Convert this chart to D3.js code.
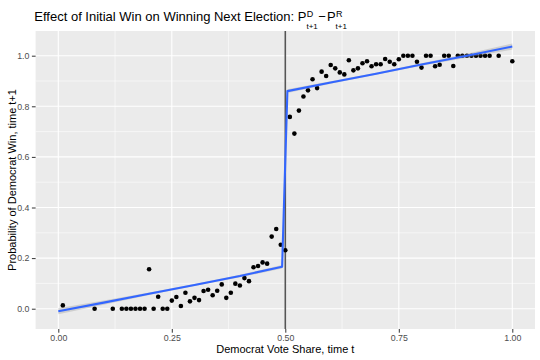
<!DOCTYPE html>
<html>
<head>
<meta charset="utf-8">
<script src="https://cdn.jsdelivr.net/npm/d3@7"></script>
<style>
  html, body { margin: 0; padding: 0; background: #ffffff; }
  svg { display: block; font-family: "Liberation Sans", Arial, Helvetica, sans-serif; }
</style>
</head>
<body>
<svg id="chart" width="540" height="360"></svg>
<script>
// ---- Data ----
const voteShare = [
  0.01, 0.08, 0.12, 0.14, 0.15, 0.16, 0.17, 0.18, 0.19, 0.20,
  0.21, 0.22, 0.23, 0.24, 0.25, 0.26, 0.27, 0.28, 0.29, 0.30,
  0.31, 0.32, 0.33, 0.34, 0.35, 0.36, 0.37, 0.38, 0.39, 0.40,
  0.41, 0.42, 0.43, 0.44, 0.45, 0.46, 0.47, 0.48, 0.49, 0.50,
  0.51, 0.52, 0.53, 0.54, 0.55, 0.56, 0.57, 0.58, 0.59, 0.60,
  0.61, 0.62, 0.63, 0.64, 0.65, 0.66, 0.67, 0.68, 0.69, 0.70,
  0.71, 0.72, 0.73, 0.74, 0.75, 0.76, 0.77, 0.78, 0.79, 0.80,
  0.81, 0.82, 0.83, 0.84, 0.85, 0.86, 0.87, 0.88, 0.89, 0.90,
  0.91, 0.92, 0.93, 0.94, 0.95, 0.97, 1.00
];
const winProb = [
  0.013, 0.000, 0.000, 0.000, 0.000, 0.000, 0.000, 0.000, 0.000, 0.156,
  0.000, 0.047, 0.000, 0.000, 0.032, 0.046, 0.011, 0.063, 0.029, 0.043,
  0.034, 0.070, 0.075, 0.053, 0.071, 0.096, 0.043, 0.063, 0.099, 0.092,
  0.121, 0.109, 0.164, 0.169, 0.183, 0.178, 0.285, 0.315, 0.253, 0.231,
  0.758, 0.692, 0.783, 0.839, 0.863, 0.907, 0.872, 0.937, 0.920, 0.963,
  0.950, 0.934, 0.926, 0.982, 0.942, 0.950, 0.970, 0.978, 0.958, 0.966,
  0.966, 0.987, 0.976, 0.966, 0.986, 1.000, 1.000, 1.000, 0.976, 0.953,
  1.000, 1.000, 0.958, 0.964, 1.000, 1.000, 0.959, 1.000, 1.000, 1.000,
  1.000, 1.000, 1.000, 1.000, 1.000, 1.000, 0.978
];
// fitted regression-discontinuity line and its confidence half-width
const fitX  = [0, 0.1, 0.2, 0.3, 0.4, 0.493, 0.5046, 0.6, 0.7, 0.8, 0.9, 1.0];
const fitY  = [-0.010, 0.024, 0.059, 0.094, 0.129, 0.166, 0.860, 0.894, 0.929, 0.965, 1.000, 1.036];
const fitSe = [0.012, 0.008, 0.005, 0.004, 0.005, 0.007, 0.007, 0.005, 0.004, 0.005, 0.008, 0.012];
const cutoff = 0.5;

const xTicks = [0, 0.25, 0.5, 0.75, 1.0];
const xMinor = [0.125, 0.375, 0.625, 0.875];
const yTicks = [0, 0.2, 0.4, 0.6, 0.8, 1.0];
const yMinor = [0.1, 0.3, 0.5, 0.7, 0.9];

// ---- Layout ----
const svg = d3.select("#chart");
const panel = { left: 35.6, right: 535, top: 31, bottom: 329 };

const x = d3.scaleLinear().domain([-0.05, 1.05]).range([panel.left, panel.right]);
const y = d3.scaleLinear().domain([-0.0802, 1.0976]).range([panel.bottom, panel.top]);

// panel background
svg.append("rect")
  .attr("x", panel.left).attr("y", panel.top)
  .attr("width", panel.right - panel.left).attr("height", panel.bottom - panel.top)
  .attr("fill", "#EBEBEB");

const grid = svg.append("g");
// minor grid
grid.selectAll("line.xmin").data(xMinor).join("line")
  .attr("x1", d => x(d)).attr("x2", d => x(d))
  .attr("y1", panel.top).attr("y2", panel.bottom)
  .attr("stroke", "#ffffff").attr("stroke-width", 0.55);
grid.selectAll("line.ymin").data(yMinor).join("line")
  .attr("y1", d => y(d)).attr("y2", d => y(d))
  .attr("x1", panel.left).attr("x2", panel.right)
  .attr("stroke", "#ffffff").attr("stroke-width", 0.55);
// major grid
grid.selectAll("line.xmaj").data(xTicks).join("line")
  .attr("x1", d => x(d)).attr("x2", d => x(d))
  .attr("y1", panel.top).attr("y2", panel.bottom)
  .attr("stroke", "#ffffff").attr("stroke-width", 1.1);
grid.selectAll("line.ymaj").data(yTicks).join("line")
  .attr("y1", d => y(d)).attr("y2", d => y(d))
  .attr("x1", panel.left).attr("x2", panel.right)
  .attr("stroke", "#ffffff").attr("stroke-width", 1.1);

// vertical cutoff line
svg.append("line")
  .attr("x1", x(cutoff)).attr("x2", x(cutoff))
  .attr("y1", panel.top).attr("y2", panel.bottom)
  .attr("stroke", "#555555").attr("stroke-width", 1.6);

// points
svg.append("g").selectAll("circle")
  .data(voteShare.map((v, i) => [v, winProb[i]]))
  .join("circle")
  .attr("cx", d => x(d[0])).attr("cy", d => y(d[1]))
  .attr("r", 2.3).attr("fill", "#000000");

// confidence band
const fit = fitX.map((v, i) => ({ x: v, y: fitY[i], se: fitSe[i] }));
svg.append("path")
  .datum(fit)
  .attr("d", d3.area().x(d => x(d.x)).y0(d => y(d.y - d.se)).y1(d => y(d.y + d.se)))
  .attr("fill", "#999999").attr("fill-opacity", 0.35);

// fitted line
svg.append("path")
  .datum(fit)
  .attr("d", d3.line().x(d => x(d.x)).y(d => y(d.y)))
  .attr("fill", "none").attr("stroke", "#3366FF").attr("stroke-width", 2.1)
  .attr("stroke-linejoin", "round");

// axes
const xAxis = svg.append("g")
  .attr("transform", `translate(0,${panel.bottom})`)
  .call(d3.axisBottom(x).tickValues(xTicks).tickFormat(d3.format(".2f")).tickSize(3.7).tickPadding(2.5));
const yAxis = svg.append("g")
  .attr("transform", `translate(${panel.left},0)`)
  .call(d3.axisLeft(y).tickValues(yTicks).tickFormat(d3.format(".1f")).tickSize(3.7).tickPadding(2.5));
[xAxis, yAxis].forEach(a => {
  a.select(".domain").remove();
  a.selectAll(".tick line").attr("stroke", "#333333").attr("stroke-width", 1);
  a.selectAll(".tick text").attr("fill", "#4D4D4D").attr("font-size", "8.8px")
    .attr("font-family", "'Liberation Sans', Arial, sans-serif");
});

// axis titles
svg.append("text")
  .attr("x", (panel.left + panel.right) / 2).attr("y", 353)
  .attr("text-anchor", "middle").attr("font-size", "11px").attr("fill", "#000")
  .text("Democrat Vote Share, time t");
svg.append("text")
  .attr("transform", `translate(16,${(panel.top + panel.bottom) / 2}) rotate(-90)`)
  .attr("text-anchor", "middle").attr("font-size", "11px").attr("fill", "#000")
  .text("Probability of Democrat Win, time t+1");

// title with plotmath-like super/subscripts
const titleG = svg.append("g");
const t1 = titleG.append("text")
  .attr("x", 34.3).attr("y", 21).attr("font-size", "13px").attr("fill", "#000")
  .text("Effect of Initial Win on Winning Next Election: P");
let cx = 34.3 + t1.node().getComputedTextLength();
const sup1 = titleG.append("text").attr("x", cx + 0.3).attr("y", 16.5)
  .attr("font-size", "9px").text("D");
const sub1 = titleG.append("text").attr("x", cx).attr("y", 28.5)
  .attr("font-size", "8px").text("t+1");
cx += Math.max(sup1.node().getComputedTextLength(), sub1.node().getComputedTextLength());
const tm = titleG.append("text").attr("x", cx + 0.5).attr("y", 21)
  .attr("font-size", "13px").text("\u2212");
cx = cx + 0.5 + tm.node().getComputedTextLength() + 1;
const t2 = titleG.append("text").attr("x", cx).attr("y", 21)
  .attr("font-size", "13px").text("P");
cx += t2.node().getComputedTextLength();
titleG.append("text").attr("x", cx + 0.3).attr("y", 16.5)
  .attr("font-size", "9px").text("R");
titleG.append("text").attr("x", cx).attr("y", 28.5)
  .attr("font-size", "8px").text("t+1");
</script>
</body>
</html>
